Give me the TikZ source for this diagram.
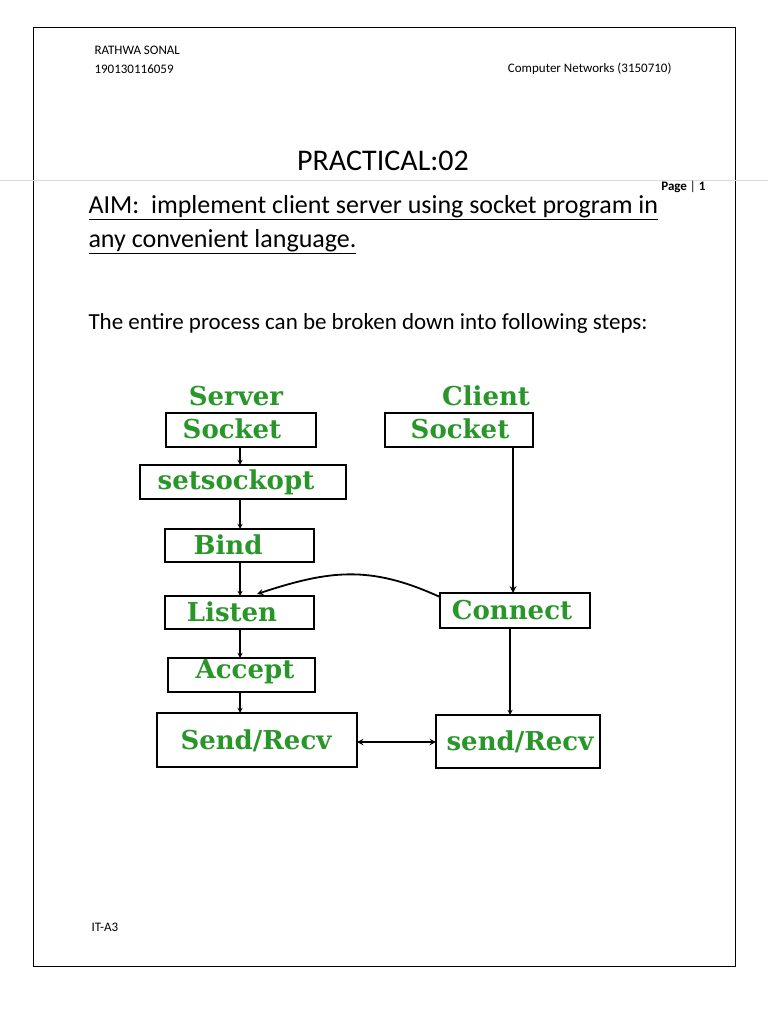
\documentclass[tikz,border=0pt]{standalone}
\usepackage{fontspec}
\setmainfont{Carlito}
\newfontfamily\diag{DejaVu Serif}
\definecolor{gr}{RGB}{40,150,40}
\begin{document}
\begin{tikzpicture}[x=1pt,y=-1pt,
 bx/.style={draw,line width=1.8pt,inner sep=0pt},
 lb/.style={font=\diag\fontsize{26}{26}\selectfont\bfseries,text=gr},
 sm/.style={font=\fontsize{13}{13}\selectfont},
 ar/.style={-stealth,line width=1.3pt}]
\useasboundingbox (0,0) rectangle (768,1024);
\draw[line width=1pt] (33,28) rectangle (735,966);
\draw[gray!30,line width=0.5pt] (0,180) -- (768,180);
\node[anchor=west,sm] (h1) at (91,50) {RATHWA SONAL};
\node[anchor=west,sm] (h2) at (91,69) {190130116059};
\node[anchor=east,sm] (h3) at (675,69) {Computer Networks (3150710)};
\node[font=\fontsize{30}{30}\selectfont] (t) at (383,161) {PRACTICAL:02};
\node[anchor=east,sm] (pg) at (709,187) {\textbf{Page} | \textbf{1}};
\node[anchor=west,font=\fontsize{26}{26}\selectfont] (a1) at (85,208) {\underline{AIM:\ \ implement client server using socket program in}};
\node[anchor=west,font=\fontsize{26}{26}\selectfont] (a2) at (85,242) {\underline{any convenient language.}};
\node[anchor=west,font=\fontsize{23}{23}\selectfont] (p) at (85,323) {The entire process can be broken down into following steps:};
\node[anchor=west,sm] (ft) at (88,927) {IT-A3};
% diagram
\node[lb] (sv) at (236,396) {Server};
\node[lb] (cl) at (486,396) {Client};
\draw[bx] (166,413) rectangle (316,447); \node[lb] (s1) at (232,429) {Socket};
\draw[bx] (385,413) rectangle (533,447); \node[lb] (c1) at (460,429) {Socket};
\draw[bx] (140,465) rectangle (346,499); \node[lb] (s2) at (236,482) {setsockopt};
\draw[bx] (165,529) rectangle (314,562); \node[lb] (s3) at (228,545) {Bind};
\draw[bx] (165,596) rectangle (314,629); \node[lb] (s4) at (232,612) {Listen};
\draw[bx] (440,593) rectangle (590,628); \node[lb] (c2) at (512,610) {Connect};
\draw[bx] (168,658) rectangle (315,692); \node[lb] (s5) at (245,672) {Accept};
\draw[bx] (157,713) rectangle (357,767); \node[lb] (s6) at (256,741) {Send/Recv};
\draw[bx] (436,715) rectangle (600,768); \node[lb] (c3) at (520,742) {send/Recv};
\coordinate (a) at (240,447); \coordinate (b) at (240,465);
\draw[ar] (a) -- (b);
\coordinate (a) at (240,499); \coordinate (b) at (240,529);
\draw[ar] (a) -- (b);
\coordinate (a) at (240,562); \coordinate (b) at (240,596);
\draw[ar] (a) -- (b);
\coordinate (a) at (240,629); \coordinate (b) at (240,658);
\draw[ar] (a) -- (b);
\coordinate (a) at (240,692); \coordinate (b) at (240,713);
\draw[ar] (a) -- (b);
\coordinate (a) at (513,447); \coordinate (b) at (513,593);
\draw[ar,line width=2pt] (a) -- (b);
\coordinate (a) at (510,628); \coordinate (b) at (510,715);
\draw[ar] (a) -- (b);
\coordinate (a) at (440,597); \coordinate (b) at (257,594);
\draw[ar,line width=1.8pt] (a) .. controls (370,565) and (330,570) .. (b);
\coordinate (a) at (357,742); \coordinate (b) at (436,742);
\draw[stealth-stealth,line width=1.8pt] (a) -- (b);
\end{tikzpicture}
\end{document}
